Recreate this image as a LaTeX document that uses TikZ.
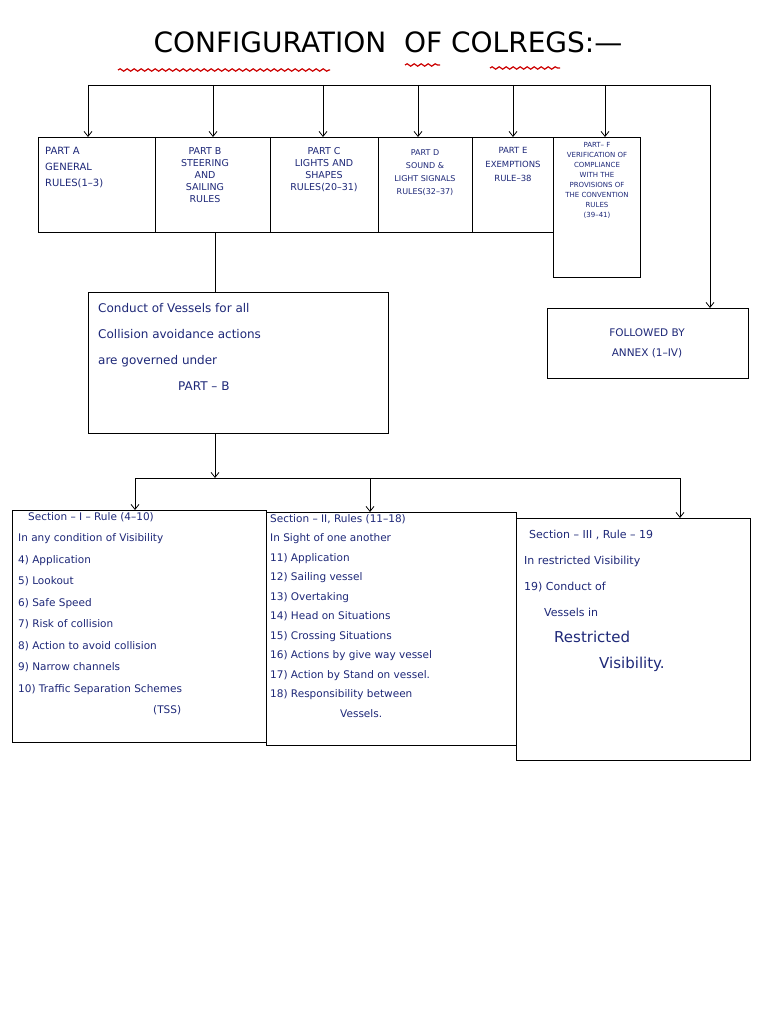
\documentclass[tikz,border=0pt]{standalone}
\usepackage{fontspec}
\setmainfont{DejaVu Sans}
\usetikzlibrary{decorations.pathmorphing,arrows.meta}
\definecolor{ink}{RGB}{30,40,120}
\begin{document}
\begin{tikzpicture}[x=1pt,y=-1pt,
  box/.style={draw=black,line width=0.9pt},
  arr/.style={draw=black,line width=0.8pt,-{Straight Barb[length=5pt,width=8pt]}},
  ln/.style={draw=black,line width=0.8pt},
  t/.style={text=ink,font=\fontsize{9.5}{12}\selectfont,inner sep=0pt},
  sq/.style={draw=red!80!black,line width=1.2pt,decorate,decoration={snake,amplitude=1.2pt,segment length=7pt}}]
\useasboundingbox[fill=white] (0,0) rectangle (768,1024);
\node[text=black,font=\fontsize{28}{32}\selectfont] (title) at (388,42) {CONFIGURATION\ \ OF COLREGS:—};
\draw[sq] (118,70)--(330,70);
\draw[sq] (405,65)--(440,65);
\draw[sq] (490,68)--(560,68);
\coordinate (h0) at (88,85); \coordinate (h1) at (710,85);
\draw[ln] (h0)--(h1);
\node[box,minimum width=117,minimum height=95,anchor=north west] (pa) at (38,137) {};
\node[box,minimum width=115,minimum height=95,anchor=north west] (pb) at (155,137) {};
\node[box,minimum width=108,minimum height=95,anchor=north west] (pc) at (270,137) {};
\node[box,minimum width=94,minimum height=95,anchor=north west] (pd) at (378,137) {};
\node[box,minimum width=81,minimum height=95,anchor=north west] (pe) at (472,137) {};
\node[box,minimum width=87,minimum height=140,anchor=north west] (pf) at (553,137) {};
\foreach \x/\n in {88/pa,213/pb,323/pc,418/pd,513/pe,605/pf}{\draw[arr] (\x,85)--(\x,137);}
\node[t,align=left,anchor=north west,font=\fontsize{10}{14}\selectfont] at (45,147) {PART A\\[2pt]GENERAL\\[2pt]RULES(1–3)};
\node[t,align=center,anchor=north] at (205,147) {PART B\\STEERING\\AND\\SAILING\\RULES};
\node[t,align=center,anchor=north] at (324,147) {PART C\\LIGHTS AND\\SHAPES\\RULES(20–31)};
\node[t,align=center,anchor=north,font=\fontsize{8}{13}\selectfont] at (425,149) {PART D\\SOUND \&\\LIGHT SIGNALS\\RULES(32–37)};
\node[t,align=center,anchor=north,font=\fontsize{8.5}{14}\selectfont] at (513,147) {PART E\\EXEMPTIONS\\RULE–38};
\node[t,align=center,anchor=north,font=\fontsize{7}{10}\selectfont] at (597,142) {PART– F\\VERIFICATION OF\\COMPLIANCE\\WITH THE\\PROVISIONS OF\\THE CONVENTION\\RULES\\(39–41)};
\node[box,minimum width=300,minimum height=141,anchor=north west] (cv) at (88,292) {};
\draw[ln] (pb.south -| 215,0)--(215,292);
\node[t,align=left,anchor=north west,font=\fontsize{12}{26}\selectfont] at (98,303) {Conduct of Vessels for all\\Collision avoidance actions\\are governed under\\\hspace*{80pt}PART – B};
\node[box,minimum width=201,minimum height=70,anchor=north west] (an) at (547,308) {};
\draw[arr] (710,85)--(an.north -| 710,0);
\node[t,align=center,font=\fontsize{10.5}{14}\selectfont] at (647,343) {FOLLOWED BY\\[6pt]ANNEX (1–IV)};
\draw[arr] (215,433)--(215,478);
\draw[ln] (135,478)--(680,478);
\node[box,minimum width=254,minimum height=232,anchor=north west] (s1) at (12,510) {};
\node[box,minimum width=250,minimum height=233,anchor=north west] (s2) at (266,512) {};
\node[box,minimum width=234,minimum height=242,anchor=north west] (s3) at (516,518) {};
\draw[arr] (135,478)--(135,510);
\draw[arr] (370,478)--(370,512);
\draw[arr] (680,478)--(680,518);
\node[t,align=left,anchor=north west,font=\fontsize{10.5}{21.5}\selectfont] at (18,512) {\hspace*{10pt}Section – I – Rule (4–10)\\
In any condition of Visibility\\4) Application\\5) Lookout\\6) Safe Speed\\7) Risk of collision\\8) Action to avoid collision\\9) Narrow channels\\10) Traffic Separation Schemes\\\hspace*{135pt}(TSS)};
\node[t,align=left,anchor=north west,font=\fontsize{10.5}{19.5}\selectfont] at (270,514) {Section – II, Rules (11–18)\\
In Sight of one another\\11) Application\\12) Sailing vessel\\13) Overtaking\\14) Head on Situations\\15) Crossing Situations\\16) Actions by give way vessel\\17) Action by Stand on vessel.\\18) Responsibility between\\\hspace*{70pt}Vessels.};
\node[t,align=left,anchor=north west,font=\fontsize{11}{26}\selectfont] at (524,530) {\hspace*{5pt}Section – III , Rule – 19\\In restricted Visibility\\19) Conduct of\\\hspace*{20pt}Vessels in\\\hspace*{30pt}{\fontsize{15}{16}\selectfont Restricted}\\\hspace*{75pt}{\fontsize{15}{16}\selectfont Visibility.}};
\end{tikzpicture}
\end{document}
